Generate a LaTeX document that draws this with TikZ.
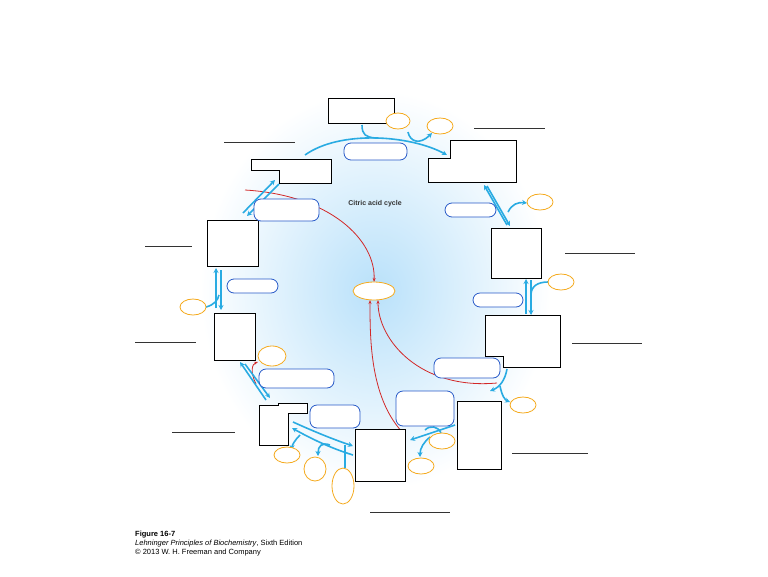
\documentclass[tikz,border=0pt]{standalone}
\usepackage{fontspec}
\setmainfont{Liberation Sans}
\usetikzlibrary{arrows.meta,shapes.geometric}
\definecolor{cyc}{RGB}{41,171,226}
\definecolor{enz}{RGB}{40,90,200}
\definecolor{org}{RGB}{245,170,30}
\definecolor{bgb}{RGB}{185,225,250}
\definecolor{red1}{RGB}{210,40,40}
\tikzset{
 bx/.style={draw=black,thick,fill=white},
 en/.style={draw=enz,thick,rounded corners=7pt,fill=white},
 ov/.style={draw=org,thick,fill=white},
 ul/.style={draw=black!80,line width=0.7pt},
 ar/.style={draw=cyc,line width=1.6pt,-{Stealth[length=5pt,width=5pt]}},
 al/.style={draw=cyc,line width=1.6pt},
 rd/.style={draw=red1,line width=0.8pt,-{Stealth[length=4pt]}},
}
\begin{document}
\begin{tikzpicture}[x=1pt,y=-1pt]
\useasboundingbox (0,0) rectangle (768,576);
\fill[white] (0,0) rectangle (768,576);
% background
\shade[inner color=bgb,outer color=white] (375,290) ellipse [x radius=175,y radius=200];
% underline labels
\foreach \a/\b/\y in {224/295/142,474/545/128,145/192/246,565/635/253,135/196/342,572/642/343,172/235/432,512/588/453,370/450/512}
  \draw[ul] (\a,\y) -- (\b,\y);
% red regulation
\draw[rd] (245,190) .. controls (330,195) and (376,240) .. (374,282);
\draw[rd] (405,435) .. controls (370,400) and (370,340) .. (370,300);
\draw[rd] (497,383) .. controls (420,390) and (378,340) .. (378,300);
\draw[rd] (256,384) .. controls (250,372) and (252,364) .. (258,362);
% cycle arrows
\draw[ar] (305,155) .. controls (340,130) and (410,135) .. (447,155);
\draw[al] (362,125) .. controls (362,135) and (366,137) .. (375,138);
\draw[ar] (408,132) .. controls (410,142) and (420,145) .. (432,133);
\draw[ar] (487,186) -- (510,226);
\draw[ar] (507,225) -- (484,185);
\draw[ar] (508,212) .. controls (512,204) and (518,202) .. (527,203);
\draw[ar] (531,280) -- (531,315);
\draw[ar] (526,314) -- (526,279);
\draw[al] (548,282) .. controls (538,282) and (531,286) .. (531,295);
\draw[ar] (507,369) .. controls (505,380) and (500,387) .. (490,391);
\draw[ar] (500,386) .. controls (502,396) and (505,400) .. (510,402);
\draw[ar] (455,425) .. controls (440,430) and (425,435) .. (410,440);
\draw[ar] (430,437) .. controls (424,442) and (420,448) .. (420,457);
\draw[al] (441,433) .. controls (438,426) and (430,425) .. (425,430);
\draw[ar] (353,455) .. controls (330,448) and (310,438) .. (292,428);
\draw[ar] (293,422) .. controls (315,432) and (335,440) .. (353,446);
\draw[ar] (300,435) .. controls (295,440) and (292,445) .. (292,450);
\draw[ar] (330,445) .. controls (322,442) and (318,446) .. (318,456);
\draw[al] (345,468) -- (345,445);
\draw[ar] (266,400) -- (240,362);
\draw[ar] (245,364) -- (270,398);
\draw[ar] (221,270) -- (221,310);
\draw[ar] (216,308) -- (216,268);
\draw[al] (206,307) .. controls (214,305) and (218,300) .. (219,295);
\draw[ar] (243,213) -- (275,180);
\draw[ar] (279,184) -- (247,216);
% boxes
\draw[bx] (328,98) rectangle (394,123);
\node (bTop) at (361,110) {};
\draw[bx] (450,140) -- (516,140) -- (516,182) -- (428,182) -- (428,158) -- (450,158) -- cycle;
\draw[bx] (251,159) -- (331,159) -- (331,183) -- (279,183) -- (279,170) -- (251,170) -- cycle;
\draw[bx] (491,228) rectangle (541,278);
\draw[bx] (485,315) -- (560,315) -- (560,367) -- (503,367) -- (503,356) -- (485,356) -- cycle;
\draw[bx] (457,401) rectangle (501,469);
\draw[bx] (355,429) rectangle (405,481);
\draw[bx] (259,405) -- (278,405) -- (278,403) -- (307,403) -- (307,413) -- (288,413) -- (288,445) -- (259,445) -- cycle;
\draw[bx] (214,313) rectangle (255,360);
\draw[bx] (207,220) rectangle (258,266);
% enzymes
\foreach \a/\b/\c/\d in {344/143/407/160,445/203/496/217,254/199/319/221,227/279/278/293,473/293/523/307,434/358/500/378,259/369/334/388,396/391/454/426,310/405/360/428}
  \draw[en] (\a,\b) rectangle (\c,\d);
% ovals
\foreach \x/\y/\rx/\ry in {398/121/12/8,440/126/13/8,540/202/13/8,561/282/13/8,193/307/13/8,272/356/14/10,523/405/13/8,287/455/13/8,315/469/11/12,343/486/11/18,421/466/13/8,442/441/13/8,374/291/21/9}
  \draw[ov] (\x,\y) ellipse [x radius=\rx,y radius=\ry];
\node[font=\bfseries\fontsize{7}{8}\selectfont,text=black!80] (title) at (375,204) {Citric acid cycle};
\node[anchor=north west,align=left,inner sep=0pt,font=\fontsize{7.5}{9}\selectfont] (cap) at (135,531)
 {\textbf{Figure 16-7}\\\textit{Lehninger Principles of Biochemistry}, Sixth Edition\\© 2013 W. H. Freeman and Company};
\end{tikzpicture}
\end{document}
